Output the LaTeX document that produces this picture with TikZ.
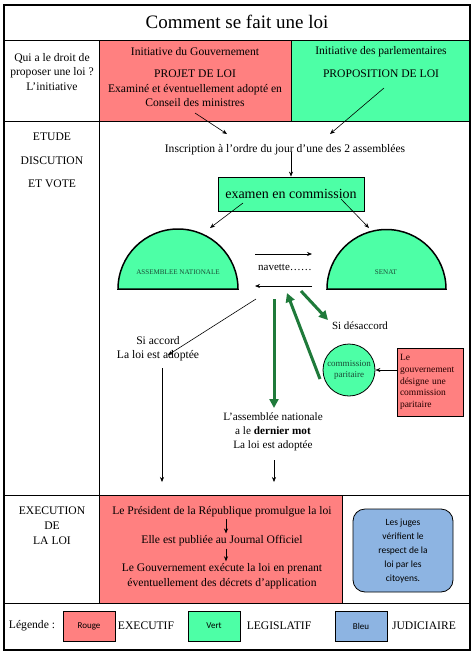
\documentclass[tikz,border=0pt]{standalone}
\usepackage{fontspec}
\setmainfont{Liberation Serif}
\newfontfamily\calib{Carlito}
\usetikzlibrary{arrows.meta}
\definecolor{rouge}{HTML}{FF8080}
\definecolor{vert}{HTML}{4DFFA6}
\definecolor{bleu}{HTML}{8DB4E2}
\definecolor{dgreen}{HTML}{1F7A3A}
\definecolor{dtext}{HTML}{1A4A35}
\begin{document}
\begin{tikzpicture}[x=1pt,y=-1pt,
  txt/.style={font=\fontsize{11.6}{14.5}\selectfont, align=center, inner sep=0pt},
  small/.style={font=\fontsize{7.1}{8}\selectfont, inner sep=0pt, text=dtext},
  arr/.style={-{Stealth[length=5pt,width=4pt]}, line width=0.6pt},
  garr/.style={-{Triangle[length=9pt,width=9pt]}, line width=3pt, draw=dgreen},
  grid/.style={line width=0.8pt},
  legbox/.style={draw, line width=0.8pt, minimum width=52pt, minimum height=30pt, inner sep=0pt, font=\calib\fontsize{9}{10}\selectfont}]
\useasboundingbox (0,0) rectangle (476,654);
% fills
\fill[rouge] (99,40) rectangle (291,121);
\fill[vert] (291,40) rectangle (470,121);
\fill[rouge] (99,495) rectangle (342,603);
% grid
\draw[line width=1.2pt] (4,5) rectangle (470,650);
\draw[grid] (4,40) -- (470,40);
\draw[grid] (4,121) -- (470,121);
\draw[grid] (4,495) -- (470,495);
\draw[grid] (4,603) -- (470,603);
\draw[grid] (99,40) -- (99,603);
\draw[grid] (291,40) -- (291,121);
\draw[grid] (342,495) -- (342,603);
% title
\node[txt, font=\fontsize{19}{22}\selectfont] (title) at (237,22) {Comment se fait une loi};
% row 2
\node[txt] (qui) at (52,72) {Qui a le droit de\\proposer une loi ?\\L’initiative};
\node[txt] (igouv) at (195,52) {Initiative du Gouvernement};
\node[txt] (projet) at (195,88.5) {PROJET DE LOI\\Examiné et éventuellement adopté en\\Conseil des ministres};
\node[txt] (iparl) at (381,52) {Initiative des parlementaires};
\node[txt] (propo) at (381,74) {PROPOSITION DE LOI};
% row 3
\node[txt] (etude) at (52,137) {ETUDE};
\node[txt] (disc) at (52,161) {DISCUTION};
\node[txt] (vote) at (52,184) {ET VOTE};
\node[txt] (insc) at (285,150) {Inscription à l’ordre du jour d’une des 2 assemblées};
\coordinate (p1s) at (195,113);
\coordinate (p2s) at (384,88);
\coordinate (i1) at (227,134);
\coordinate (i2) at (330,134);
\draw[arr] (p1s) -- (i1);
\draw[arr] (p2s) -- (i2);
\node[draw, fill=vert, line width=0.8pt, minimum width=146pt, minimum height=34pt, inner sep=0pt, font=\fontsize{14}{16}\selectfont] (exam) at (291,194) {examen en commission};
\draw[arr] (insc.south -| exam.north) ++(0,-3) -- (exam.north);
% semicircles
\filldraw[fill=vert, line width=1.5pt] (118,289) arc[start angle=180, end angle=360, radius=60] -- cycle;
\filldraw[fill=vert, line width=1.5pt] (327,289) arc[start angle=180, end angle=360, radius=59.5] -- cycle;
\node[small] (an) at (178,272) {ASSEMBLEE NATIONALE};
\node[small] (senat) at (386,272) {SENAT};
\coordinate (e1) at (243,203);
\coordinate (e2) at (341,199);
\coordinate (a1) at (210,228);
\coordinate (s1) at (369,228);
\draw[arr] (e1) -- (a1);
\draw[arr] (e2) -- (s1);
% navette
\node[txt, font=\fontsize{11}{13}\selectfont] (nav) at (285,267) {navette……};
\coordinate (n1) at (255,254);
\coordinate (n2) at (312,254);
\coordinate (n3) at (312,286);
\coordinate (n4) at (255,286);
\draw[arr] (n1) -- (n2);
\draw[arr] (n3) -- (n4);
% si accord
\node[txt] (accord) at (158,348.5) {Si accord\\La loi est adoptée};
\coordinate (c1) at (256,299);
\coordinate (c2) at (168,355);
\draw[arr] (c1) -- (c2);
\coordinate (c3) at (162,368);
\coordinate (c4) at (162,482);
\draw[arr] (c3) -- (c4);
% green arrows
\coordinate (g1) at (274,299);
\coordinate (g2) at (274,408);
\draw[garr] (g1) -- (g2);
\coordinate (g3) at (320,379);
\coordinate (g4) at (287,293);
\draw[garr] (g3) -- (g4);
\coordinate (g5) at (301,291);
\coordinate (g6) at (328,320);
\draw[garr] (g5) -- (g6);
\node[txt, font=\fontsize{11}{13}\selectfont] (desac) at (360,326) {Si désaccord};
% commission paritaire
\node[circle, draw, fill=vert, line width=0.8pt, minimum size=52pt, inner sep=0pt, align=center, text=dtext, font=\fontsize{9}{11}\selectfont] (comm) at (349,370) {commission\\paritaire};
\node[draw, fill=rouge, line width=0.8pt, minimum width=66pt, minimum height=68pt, inner sep=0pt, text width=60pt, align=left, font=\fontsize{9.5}{11.8}\selectfont, text=black!85!red] (gouv) at (430,382) {Le\\gouvernement\\désigne une\\commission\\paritaire};
\draw[arr] (gouv.west |- comm.east) -- (comm.east);
% dernier mot
\node[txt, font=\fontsize{11.2}{14}\selectfont] (dernier) at (273,432) {L’assemblée nationale\\a le \textbf{dernier mot}\\La loi est adoptée};
\coordinate (d1) at (274,460);
\coordinate (d2) at (274,482);
\draw[arr] (d1) -- (d2);
% row 4
\node[txt, font=\fontsize{11.6}{15}\selectfont] (exec) at (52,526) {EXECUTION\\DE\\LA LOI};
\node[txt] (pres) at (222,512) {Le Président de la République promulgue la loi};
\node[txt] (jo) at (222,541) {Elle est publiée au Journal Officiel};
\node[txt] (gexec) at (222,576) {Le Gouvernement exécute la loi en prenant\\éventuellement des décrets d’application};
\draw[arr] ([xshift=4pt,yshift=-2pt]pres.south) -- ([xshift=4pt,yshift=2pt]jo.north);
\draw[arr] ([xshift=4pt,yshift=-2pt]jo.south) -- ([xshift=4pt,yshift=2pt]gexec.north);
\node[draw, fill=bleu, line width=0.8pt, rounded corners=12pt, minimum width=100pt, minimum height=83pt, inner sep=0pt, align=center, font=\calib\fontsize{9.5}{14}\selectfont] (juges) at (403,550.5) {Les juges\\vérifient le\\respect de la\\loi par les\\citoyens.};
% legend
\node[txt] (leg) at (32,626) {Légende :};
\node[legbox, fill=rouge] (lr) at (89,626) {Rouge};
\node[txt] (lex) at (146,626) {EXECUTIF};
\node[legbox, fill=vert] (lv) at (214,626) {Vert};
\node[txt] (lleg) at (279,626) {LEGISLATIF};
\node[legbox, fill=bleu] (lb) at (361,626) {Bleu};
\node[txt] (ljud) at (424,626) {JUDICIAIRE};
\end{tikzpicture}
\end{document}
